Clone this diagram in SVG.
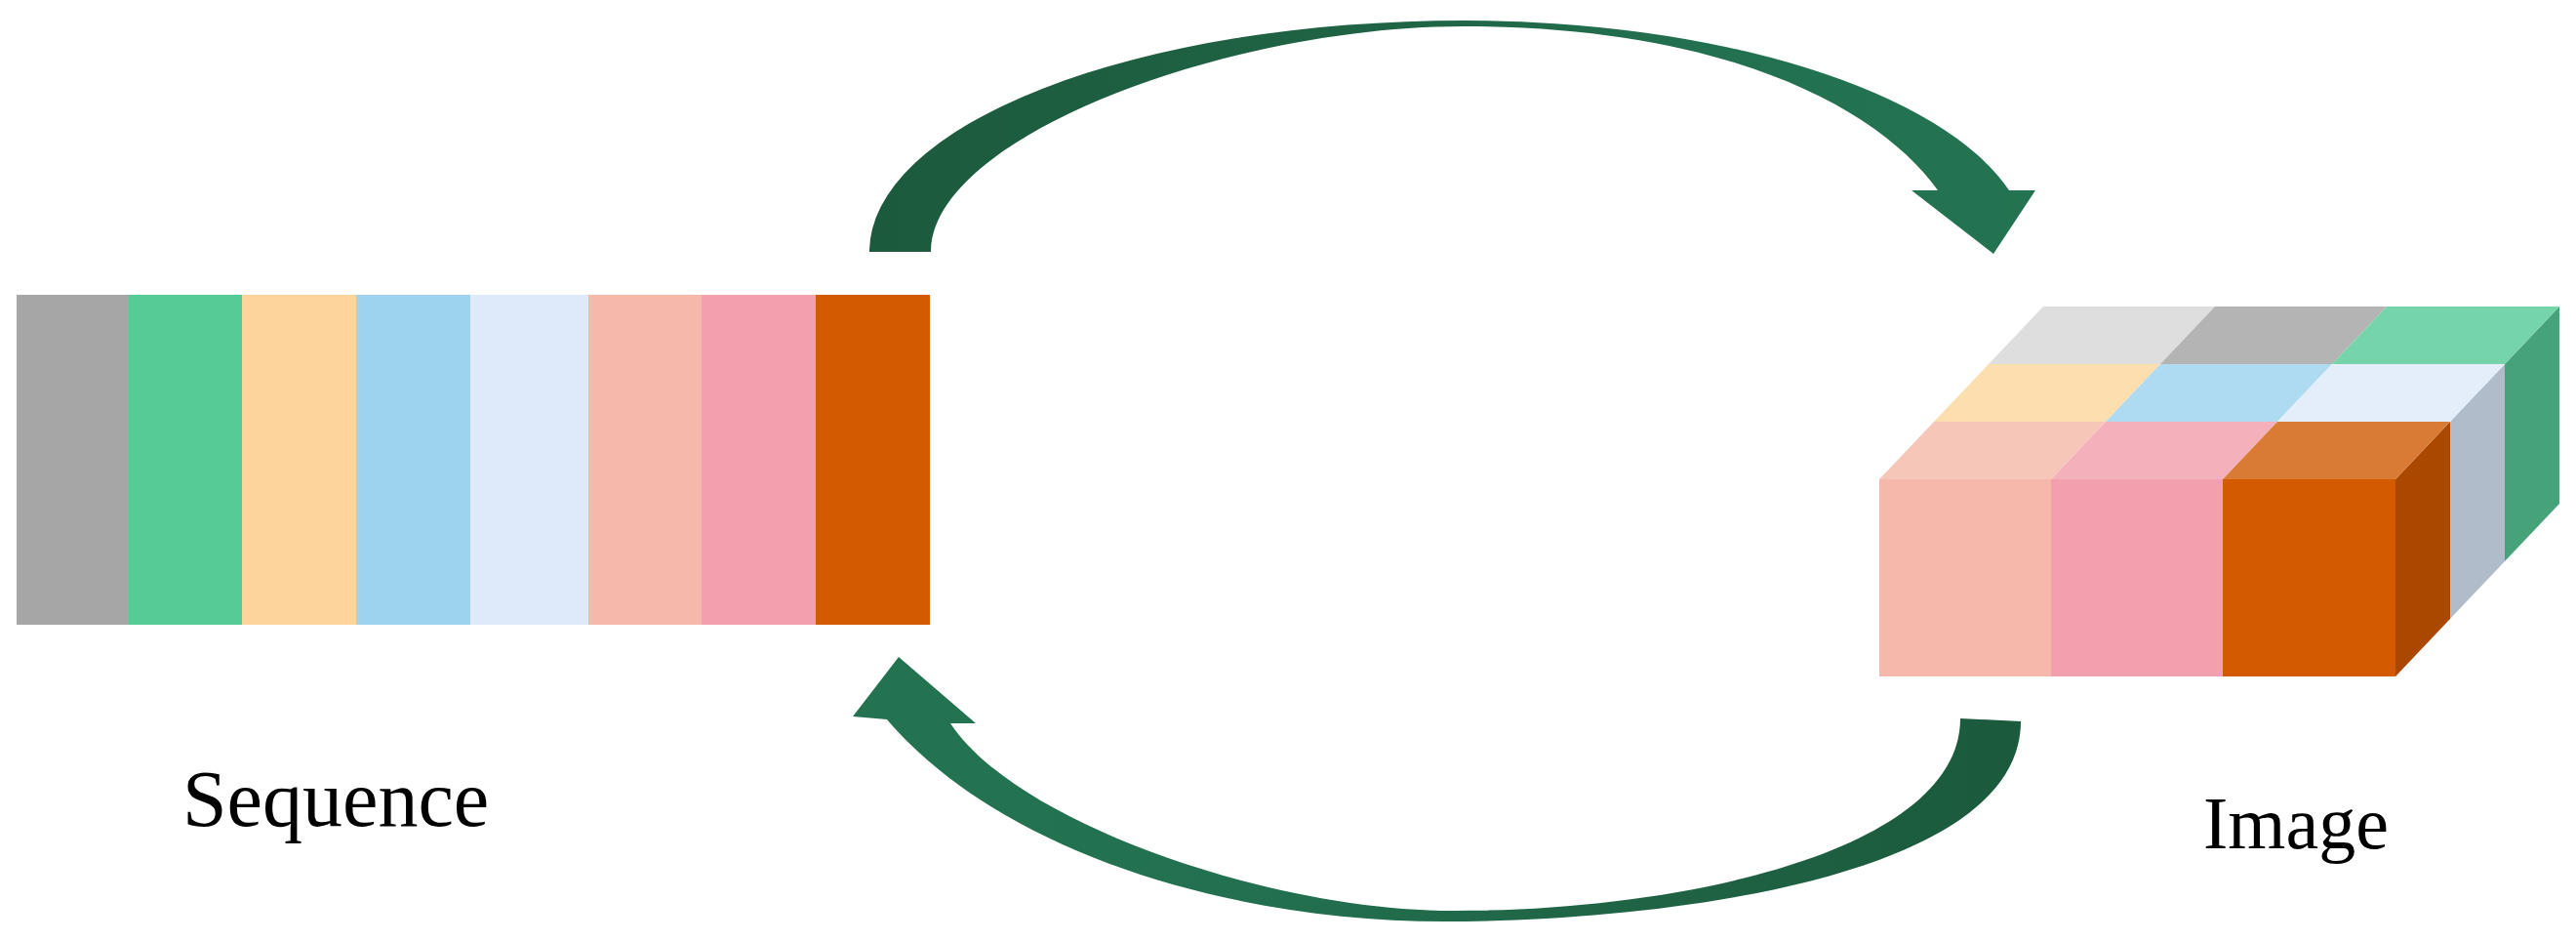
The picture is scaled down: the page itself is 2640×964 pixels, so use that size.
<svg xmlns="http://www.w3.org/2000/svg" width="2640" height="964" viewBox="0 0 2640 964">
  <defs>
    <style>
      .label { font-family: "Liberation Serif", "Times New Roman", serif; fill: #000000; }
    </style>
    <linearGradient id="gTop" gradientUnits="userSpaceOnUse" x1="891" y1="0" x2="2086" y2="0">
      <stop offset="0" stop-color="#1C5A3D"/>
      <stop offset="0.45" stop-color="#1F6445"/>
      <stop offset="0.7" stop-color="#22704F"/>
      <stop offset="1" stop-color="#237351"/>
    </linearGradient>
    <linearGradient id="gBot" gradientUnits="userSpaceOnUse" x1="874" y1="0" x2="2071" y2="0">
      <stop offset="0" stop-color="#237351"/>
      <stop offset="0.35" stop-color="#22704F"/>
      <stop offset="0.65" stop-color="#1F6445"/>
      <stop offset="1" stop-color="#1B5A3C"/>
    </linearGradient>
  </defs>
  <rect x="0" y="0" width="2640" height="964" fill="#FFFFFF"/>

  <g id="sequence">
    <rect x="17" y="302" width="115" height="338" fill="#A6A6A6"/>
    <rect x="132" y="302" width="116" height="338" fill="#56CB95"/>
    <rect x="248" y="302" width="117" height="338" fill="#FDD59C"/>
    <rect x="365" y="302" width="117" height="338" fill="#9DD3EE"/>
    <rect x="482" y="302" width="121" height="338" fill="#DEEAF9"/>
    <rect x="603" y="302" width="116" height="338" fill="#F6B8AB"/>
    <rect x="719" y="302" width="117" height="338" fill="#F29FAE"/>
    <rect x="836" y="302" width="117" height="338" fill="#D45A00"/>
  </g>

  <g id="sequence-label">
    <text class="label" x="187" y="846" font-size="82">Sequence</text>
  </g>

  <g id="image">
    <!-- side faces -->
    <polygon points="2567,373 2623,314 2623,516 2567,575" fill="#45A279"/>
    <polygon points="2511,432 2567,373 2567,575 2511,634" fill="#B0BCCA"/>
    <polygon points="2455,491 2511,432 2511,634 2455,693" fill="#AA4800"/>
    <!-- top faces, back row -->
    <polygon points="2038,373 2214,373 2270,314 2094,314" fill="#DEDEDE"/>
    <polygon points="2214,373 2390,373 2446,314 2270,314" fill="#B4B4B4"/>
    <polygon points="2390,373 2567,373 2623,314 2446,314" fill="#76D4AB"/>
    <!-- top faces, middle row -->
    <polygon points="1982,432 2158,432 2214,373 2038,373" fill="#FDDEAF"/>
    <polygon points="2158,432 2334,432 2390,373 2214,373" fill="#AEDBF2"/>
    <polygon points="2334,432 2511,432 2567,373 2390,373" fill="#E4EEFB"/>
    <!-- top faces, front row -->
    <polygon points="1926,491 2102,491 2158,432 1982,432" fill="#F6C6B8"/>
    <polygon points="2102,491 2278,491 2334,432 2158,432" fill="#F4B1BC"/>
    <polygon points="2278,491 2455,491 2511,432 2334,432" fill="#DA7B35"/>
    <!-- front faces -->
    <rect x="1926" y="491" width="176" height="202" fill="#F6B8AB"/>
    <rect x="2102" y="491" width="176" height="202" fill="#F29FAE"/>
    <rect x="2278" y="491" width="177" height="202" fill="#D45A00"/>
  </g>

  <g id="image-label">
    <text class="label" x="2258" y="869" font-size="76">Image</text>
  </g>

  <g id="connectors">
    <path id="arrow-sequence-to-image" fill="url(#gTop)"
      d="M 891 258 A 609 237 0 0 1 1500 21 A 580 237 0 0 1 2059 195 L 2086 195 L 2043 260 L 1959 195 L 1986 195 C 1926 111 1770 27 1500 27 C 1260 27 954 140 954 258 Z"/>
    <path id="arrow-image-to-sequence" fill="url(#gBot)"
      d="M 2009 736 L 2071 739 C 2071 900 1700 944 1480 944 C 1260 944 1025 873 909 737 L 874 734 L 921 673 L 1000 741 L 974 741 C 1040 842 1300 933 1490 933 C 1730 933 2009 870 2009 736 Z"/>
  </g>
</svg>
